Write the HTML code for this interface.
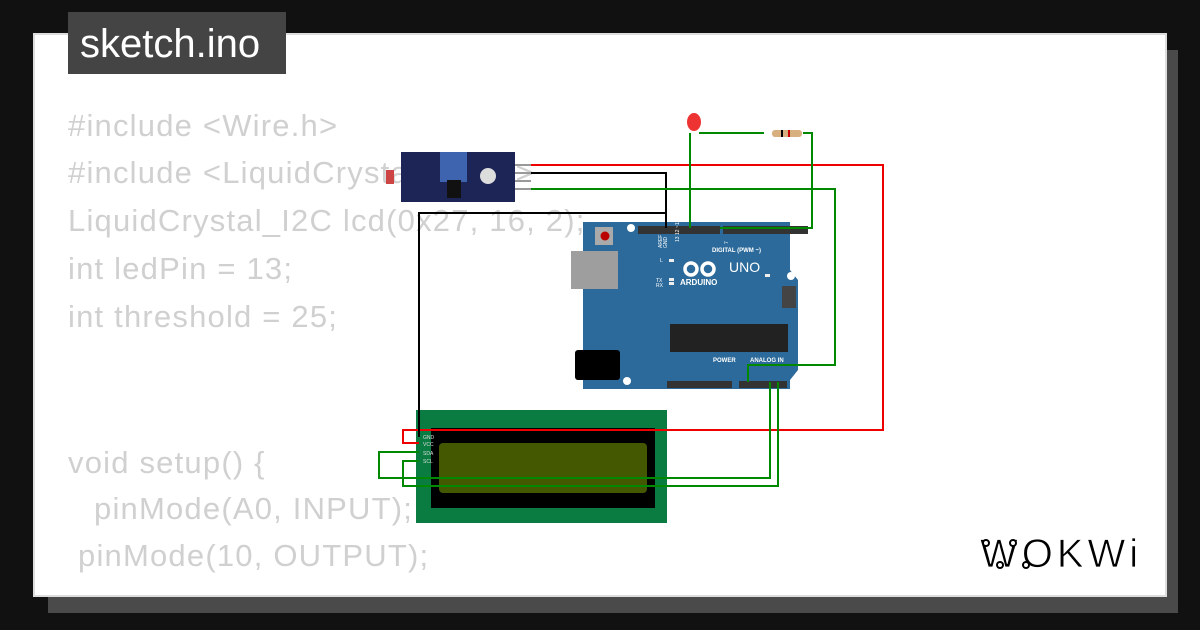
<!DOCTYPE html>
<html><head><meta charset="utf-8"><style>
html,body{margin:0;padding:0;background:#111;width:1200px;height:630px;overflow:hidden}
</style></head><body>
<svg width="1200" height="630" viewBox="0 0 1200 630" xmlns="http://www.w3.org/2000/svg" font-family="Liberation Sans, sans-serif">
<rect width="1200" height="630" fill="#111"/>
<rect x="48" y="50" width="1130" height="563" fill="#4a4a4a"/>
<rect x="34" y="34" width="1132" height="562" fill="#fff" stroke="#ddd" stroke-width="2"/>
<rect x="68" y="12" width="218" height="62" fill="#444"/>
<text x="80" y="57" font-size="40" fill="#fff">sketch.ino</text>
<g font-size="31" fill="#d0d0d0" letter-spacing="1.2">
<text x="68" y="136">#include &lt;Wire.h&gt;</text>
<text x="68" y="183">#include &lt;LiquidCrystal_I2C.h&gt;</text>
<text x="68" y="231">LiquidCrystal_I2C lcd(0x27, 16, 2);</text>
<text x="68" y="279">int ledPin = 13;</text>
<text x="68" y="327">int threshold = 25;</text>
<text x="68" y="473">void setup() {</text>
<text x="94" y="519">pinMode(A0, INPUT);</text>
<text x="78" y="566">pinMode(10, OUTPUT);</text>
</g>
<!-- Arduino -->
<path d="M583,222 H790 V270 L798,280 V370 L790,380 V389 H583 Z" fill="#2b6a9a"/>
<rect x="571" y="251" width="47" height="38" fill="#9e9e9e"/>
<rect x="575" y="350" width="45" height="30" fill="#000" rx="3"/>
<rect x="595" y="227" width="18" height="18" fill="#aaa"/><circle cx="605" cy="236" r="4.5" fill="#b00"/>
<rect x="638" y="226" width="82" height="8" fill="#333"/>
<rect x="723" y="226" width="85" height="8" fill="#333"/>
<rect x="670" y="324" width="118" height="28" fill="#222"/>
<rect x="667" y="381" width="65" height="7" fill="#333"/>
<rect x="739" y="381" width="48" height="7" fill="#333"/>
<rect x="782" y="286" width="14" height="22" fill="#444"/>
<circle cx="631" cy="228" r="4" fill="#fff"/><circle cx="627" cy="381" r="4" fill="#fff"/><circle cx="791" cy="276" r="4" fill="#fff"/>
<g fill="#fff" font-weight="bold">
<text x="712" y="252" font-size="6" fill="#fff">DIGITAL (PWM ~)</text>
<text x="680" y="285" font-size="8">ARDUINO</text>
<text x="729" y="272" font-size="14" font-weight="normal">UNO</text>
<text x="750" y="362" font-size="6">ANALOG IN</text>
<text x="713" y="362" font-size="6">POWER</text>
<text x="656" y="282" font-size="5" font-weight="normal">TX</text>
<text x="656" y="287" font-size="5" font-weight="normal">RX</text>
<text x="660" y="262" font-size="5" font-weight="normal">L</text>
</g>
<g fill="#eee"><rect x="669" y="259" width="5" height="3"/><rect x="669" y="278" width="5" height="3"/><rect x="669" y="282" width="5" height="3"/><rect x="765" y="274" width="5" height="3"/></g>
<g font-size="5" fill="#fff">
<text transform="translate(662,248) rotate(-90)">AREF</text>
<text transform="translate(667,248) rotate(-90)">GND</text>
<text transform="translate(679,242) rotate(-90)">13 12 ~11 ~10 ~9 8</text>
<text transform="translate(728,244) rotate(-90)">7</text>
</g>
<g fill="none" stroke="#fff" stroke-width="3.5"><circle cx="691" cy="269" r="6"/><circle cx="708" cy="269" r="6"/></g>
<!-- LCD -->
<rect x="416" y="410" width="251" height="113" fill="#0a7c42"/>
<rect x="431" y="428" width="224" height="80" fill="#000"/>
<rect x="439" y="443" width="208" height="50" rx="4" fill="#435800"/>
<g font-size="5" fill="#ddd"><text x="423" y="439">GND</text><text x="423" y="446">VCC</text><text x="423" y="455">SDA</text><text x="423" y="463">SCL</text></g>
<!-- sensor -->
<rect x="401" y="152" width="114" height="50" fill="#1c2556"/>
<rect x="440" y="152" width="27" height="30" fill="#3e64b0"/>
<circle cx="488" cy="176" r="8" fill="#ddd"/>
<rect x="447" y="180" width="14" height="18" fill="#111"/>
<rect x="386" y="170" width="8" height="14" fill="#c44"/>
<g stroke="#999" stroke-width="2"><line x1="515" y1="165" x2="531" y2="165"/><line x1="515" y1="173" x2="531" y2="173"/><line x1="515" y1="181" x2="531" y2="181"/><line x1="515" y1="189" x2="531" y2="189"/></g>
<!-- LED & resistor -->
<ellipse cx="694" cy="122" rx="7" ry="9" fill="#e33"/>
<rect x="772" y="130" width="30" height="7" rx="3" fill="#d8b080"/>
<rect x="781" y="130" width="2" height="7" fill="#000"/><rect x="788" y="130" width="2" height="7" fill="#c00"/>
<!-- wires -->
<g fill="none" stroke-width="2">
<path d="M531,165 H883 V430 H403 V443 H419" stroke="#e00"/>
<path d="M531,173 H666 V228" stroke="#000"/>
<path d="M419,437 V213 H666" stroke="#000"/>
<path d="M531,189 H835 V365 H748 V382" stroke="#080"/>
<path d="M690,133 V228" stroke="#080"/>
<path d="M699,133 H764 M803,133 H812 V228 H720" stroke="#080"/>
<path d="M419,452 H379 V478 H770 V382" stroke="#080"/>
<path d="M419,461 H403 V486 H778 V382" stroke="#080"/>
</g>
<text x="980" y="567" font-size="40" fill="#000" letter-spacing="4" font-weight="normal" stroke="#fff" stroke-width="0.8">WOKWi</text>
<g fill="#fff" stroke="#000" stroke-width="2"><circle cx="986" cy="543" r="3"/><circle cx="1000" cy="565" r="3"/><circle cx="1013" cy="543" r="3"/><circle cx="1026" cy="565" r="3"/></g>
</svg>
</body></html>
